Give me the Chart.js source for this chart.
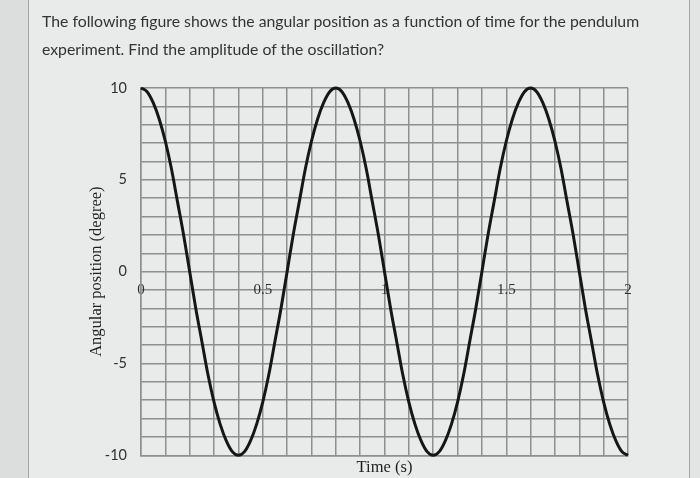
<!DOCTYPE html>
<html>
<head>
<meta charset="utf-8">
<script src="https://cdn.jsdelivr.net/npm/chart.js@4"></script>
<style>
  html, body { margin: 0; padding: 0; width: 700px; height: 478px; overflow: hidden; background: #e9ebea; }
  #leftStrip { position: absolute; left: 0; top: 0; width: 28px; height: 478px; background: #dcdedd; border-right: 1px solid #a3a5a4; }
  #rightStrip { position: absolute; left: 689px; top: 0; width: 11px; height: 478px; background: #e3e5e4; border-left: 1px solid #a6a8a7; }
  #question { position: absolute; left: 42px; top: 7px; width: 640px; font-family: Lato, "Open Sans", sans-serif; font-size: 15.8px; line-height: 28px; color: #333333; z-index: 2; }
  #c { position: absolute; left: 0; top: 0; z-index: 1; }
</style>
</head>
<body>
<div id="leftStrip"></div>
<div id="rightStrip"></div>
<div id="question">The following figure shows the angular position as a function of time for the pendulum experiment. Find the amplitude of the oscillation?</div>
<canvas id="c" width="700" height="478"></canvas>
<script>
// Time (s), read every 0.025 s from the picture
const times = [0, 0.025, 0.05, 0.075, 0.1, 0.125, 0.15, 0.175, 0.2, 0.225, 0.25, 0.275, 0.3, 0.325, 0.35, 0.375,
               0.4, 0.425, 0.45, 0.475, 0.5, 0.525, 0.55, 0.575, 0.6, 0.625, 0.65, 0.675, 0.7, 0.725, 0.75, 0.775,
               0.8, 0.825, 0.85, 0.875, 0.9, 0.925, 0.95, 0.975, 1.0, 1.025, 1.05, 1.075, 1.1, 1.125, 1.15, 1.175,
               1.2, 1.225, 1.25, 1.275, 1.3, 1.325, 1.35, 1.375, 1.4, 1.425, 1.45, 1.475, 1.5, 1.525, 1.55, 1.575,
               1.6, 1.625, 1.65, 1.675, 1.7, 1.725, 1.75, 1.775, 1.8, 1.825, 1.85, 1.875, 1.9, 1.925, 1.95, 1.975, 2.0];
// Angular position (degree)
const angles = [10, 9.8, 9.2, 8.3, 7.1, 5.6, 3.8, 2.0, 0, -2.0, -3.8, -5.6, -7.1, -8.3, -9.2, -9.8,
                -10, -9.8, -9.2, -8.3, -7.1, -5.6, -3.8, -2.0, 0, 2.0, 3.8, 5.6, 7.1, 8.3, 9.2, 9.8,
                10, 9.8, 9.2, 8.3, 7.1, 5.6, 3.8, 2.0, 0, -2.0, -3.8, -5.6, -7.1, -8.3, -9.2, -9.8,
                -10, -9.8, -9.2, -8.3, -7.1, -5.6, -3.8, -2.0, 0, 2.0, 3.8, 5.6, 7.1, 8.3, 9.2, 9.8,
                10, 9.8, 9.2, 8.3, 7.1, 5.6, 3.8, 2.0, 0, -2.0, -3.8, -5.6, -7.1, -8.3, -9.2, -9.8, -10];
const xTickLabels = ['0', '0.5', '1', '1.5', '2'];
const yTickLabels = ['-10', '-5', '0', '5', '10'];

const gridColor = '#8e8f8f';
const points = times.map((t, i) => ({ x: t, y: angles[i] }));

new Chart(document.getElementById('c'), {
  type: 'line',
  data: {
    datasets: [{
      data: points,
      borderColor: '#161616',
      borderWidth: 3,
      pointRadius: 0,
      cubicInterpolationMode: 'monotone',
      fill: false,
      clip: 6
    }]
  },
  options: {
    responsive: false,
    animation: false,
    layout: { padding: { top: 88, right: 72, left: 0, bottom: 0 } },
    plugins: { legend: { display: false }, tooltip: { enabled: false } },
    scales: {
      x: {
        type: 'linear',
        position: 'bottom',
        min: 0, max: 2,
        ticks: { display: false, stepSize: 0.1, autoSkip: false },
        grid: { color: gridColor, lineWidth: 1.5, drawTicks: false },
        border: { display: true, color: gridColor, width: 1.5 },
        title: {
          display: true, text: 'Time (s)', color: '#1e1e1e',
          font: { family: '"Liberation Serif", "DejaVu Serif", serif', size: 16.5 },
          padding: { top: 1, bottom: 0 }
        },
        afterFit: (s) => { s.height = 22; }
      },
      x2: {
        type: 'linear',
        axis: 'x',
        position: { y: -1 },
        min: 0, max: 2,
        ticks: {
          stepSize: 0.5,
          autoSkip: false,
          padding: -9,
          color: '#2e2e2e',
          font: { family: '"Liberation Serif", "DejaVu Serif", serif', size: 15 },
          callback: (v) => { const i = Math.round(v / 0.5); return (Math.abs(v - i * 0.5) < 1e-6) ? xTickLabels[i] : null; }
        },
        grid: { display: false, drawTicks: false },
        border: { display: false }
      },
      y: {
        type: 'linear',
        position: 'left',
        min: -10, max: 10,
        ticks: {
          stepSize: 1,
          autoSkip: false,
          padding: 14,
          color: '#303030',
          font: { family: 'Lato, "Open Sans", sans-serif', size: 14.5 },
          callback: (v) => { if (v % 5 === 0) { return yTickLabels[(v + 10) / 5]; } return ''; }
        },
        grid: { color: gridColor, lineWidth: 1.5, drawTicks: false },
        border: { display: true, color: gridColor, width: 1.5 },
        title: {
          display: true, text: 'Angular position (degree)', color: '#1e1e1e',
          font: { family: '"Liberation Serif", "DejaVu Serif", serif', size: 16.5 },
          padding: { top: 87, bottom: 0 }
        },
        afterFit: (s) => { s.width = 141; }
      }
    }
  }
});
</script>
</body>
</html>
